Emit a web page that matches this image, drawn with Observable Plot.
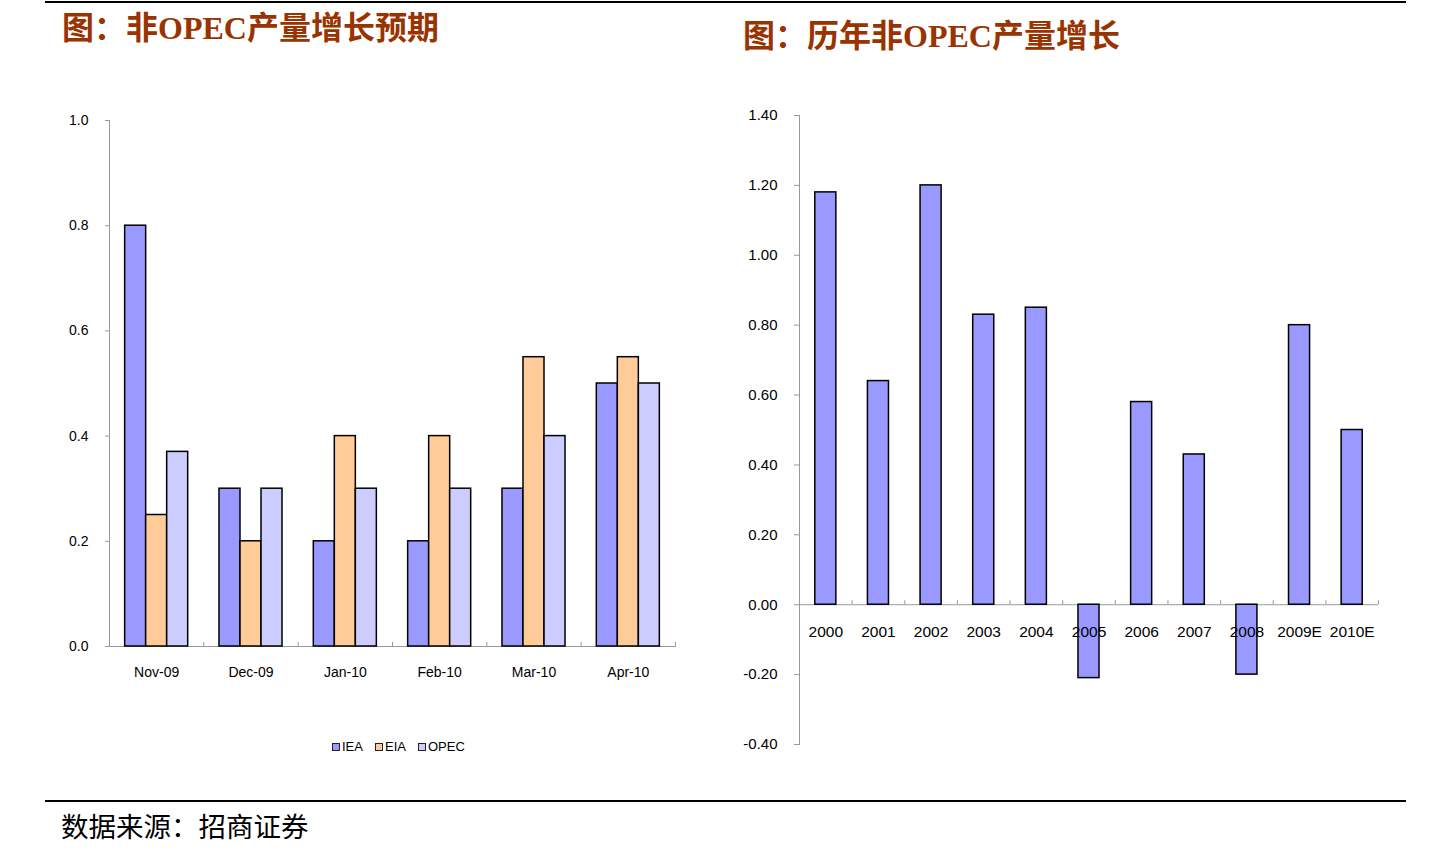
<!DOCTYPE html>
<html>
<head>
<meta charset="utf-8">
<script src="https://cdn.jsdelivr.net/npm/d3@7"></script>
<script src="https://cdn.jsdelivr.net/npm/@observablehq/plot@0.6"></script>
<style>
  html, body { margin: 0; padding: 0; background: #fff; }
  #page { position: relative; width: 1440px; height: 862px; overflow: hidden; font-family: "Liberation Sans", Arial, sans-serif; }
  .hr { position: absolute; left: 45px; width: 1361px; height: 2px; background: #000; }
  .title { position: absolute; font-family: "Liberation Serif", "Noto Sans CJK SC", serif; font-weight: bold; font-size: 32px; color: #993300; white-space: nowrap; line-height: 1; }
  .source { position: absolute; left: 61px; top: 814px; font-family: "Liberation Serif", "Noto Sans CJK SC", serif; font-size: 27.5px; color: #000; white-space: nowrap; line-height: 1; }
  .chart { position: absolute; }
  .legend { position: absolute; top: 739px; left: 332px; display: flex; gap: 12px; font-size: 13px; color: #000; white-space: nowrap; }
  .legend span.item { display: flex; align-items: center; gap: 2px; }
  .legend span.sw { display: inline-block; width: 6px; height: 6px; border: 1.5px solid #222; }
</style>
</head>
<body>
<div id="page">
  <div class="hr" style="top:1px"></div>
  <div class="title" style="left:62px; top:12px">图：非OPEC产量增长预期</div>
  <div class="title" style="left:743px; top:20px">图：历年非OPEC产量增长</div>
  <div id="left" class="chart" style="left:0px; top:90px"></div>
  <div id="legend" class="legend"></div>
  <div id="right" class="chart" style="left:700px; top:90px"></div>
  <div class="hr" style="top:800px"></div>
  <div class="source">数据来源：招商证券</div>
</div>
<script>
// Forecasts of non-OPEC supply growth by agency (mb/d)
const months = ["Nov-09", "Dec-09", "Jan-10", "Feb-10", "Mar-10", "Apr-10"];
const agencies = ["IEA", "EIA", "OPEC"];
const ieaGrowth = [0.80, 0.30, 0.20, 0.20, 0.30, 0.50];
const eiaGrowth = [0.25, 0.20, 0.40, 0.40, 0.55, 0.55];
const opecGrowth = [0.37, 0.30, 0.30, 0.30, 0.40, 0.50];
const agencyColors = ["#9999FF", "#FFCC99", "#CCCCFF"];
const leftTicks = [0, 0.2, 0.4, 0.6, 0.8, 1.0];

// Historical non-OPEC supply growth (mb/d)
const years = ["2000", "2001", "2002", "2003", "2004", "2005", "2006", "2007", "2008", "2009E", "2010E"];
const annualGrowth = [1.18, 0.64, 1.20, 0.83, 0.85, -0.21, 0.58, 0.43, -0.20, 0.80, 0.50];
const rightTicks = [-0.4, -0.2, 0, 0.2, 0.4, 0.6, 0.8, 1.0, 1.2, 1.4];
const barColor = "#9999FF";

const axisGray = "#999";
const font = "'Liberation Sans', Arial, sans-serif";

// ---- grouped bars: forecasts by month ----
const series = [ieaGrowth, eiaGrowth, opecGrowth];
const forecastRows = months.flatMap((m, i) =>
  agencies.map((a, j) => ({month: m, agency: a, value: series[j][i]}))
);

const L = {width: 700, height: 610, top: 30, bottom: 54, left: 109, right: 25};
const leftInnerH = L.height - L.top - L.bottom;

const leftChart = Plot.plot({
  width: L.width, height: L.height,
  marginTop: L.top, marginBottom: L.bottom, marginLeft: L.left, marginRight: L.right,
  style: {fontFamily: font, fontSize: "14px", color: "#000", background: "transparent", overflow: "visible"},
  fx: {domain: months, padding: 0, round: false, label: null},
  x: {domain: agencies, paddingInner: 0, paddingOuter: 0.745, round: false, axis: null},
  y: {domain: [0, 1], label: null},
  color: {domain: agencies, range: agencyColors},
  marks: [
    Plot.frame({anchor: "left", facetAnchor: "left", stroke: axisGray}),
    Plot.frame({anchor: "left", insetTop: leftInnerH - 4, stroke: axisGray}),
    Plot.frame({anchor: "right", insetTop: leftInnerH - 4, facetAnchor: "right", stroke: axisGray}),
    Plot.ruleY([0], {stroke: axisGray}),
    Plot.barY(forecastRows, {fx: "month", x: "agency", y: "value", fill: "agency", stroke: "#000", strokeWidth: 1.5}),
    Plot.axisY({ticks: leftTicks, tickFormat: d => d.toFixed(1), tickSize: 4, tickPadding: 17, stroke: axisGray, fill: "#000", label: null}),
    Plot.axisFx({anchor: "bottom", tickSize: 0, tickPadding: 21, fontSize: 14, label: null})
  ]
});
document.getElementById("left").appendChild(leftChart);

// legend
const legend = document.getElementById("legend");
agencies.forEach((a, i) => {
  const item = document.createElement("span");
  item.className = "item";
  const sw = document.createElement("span");
  sw.className = "sw";
  sw.style.background = agencyColors[i];
  item.appendChild(sw);
  item.appendChild(document.createTextNode(a));
  legend.appendChild(item);
});

// ---- single bars: growth by year ----
const annualRows = years.map((y, i) => ({year: y, value: annualGrowth[i]}));
const R = {width: 740, height: 680, top: 25, bottom: 26, left: 99, right: 62};
const rightInnerH = R.height - R.top - R.bottom;
const rightStep = (R.width - R.left - R.right) / years.length;
const tickLen = 4 * (1.4 - -0.4) / rightInnerH;

const rightChart = Plot.plot({
  width: R.width, height: R.height,
  marginTop: R.top, marginBottom: R.bottom, marginLeft: R.left, marginRight: R.right,
  style: {fontFamily: font, fontSize: "15px", color: "#000", background: "transparent", overflow: "visible"},
  x: {domain: years, paddingInner: 0.6, paddingOuter: 0.3, round: false, axis: null},
  y: {domain: [-0.4, 1.4], label: null},
  marks: [
    Plot.frame({anchor: "left", stroke: axisGray}),
    Plot.ruleY([0], {stroke: axisGray}),
    Plot.ruleX(years, {x: d => d, y1: 0, y2: tickLen, dx: -rightStep / 2, stroke: axisGray}),
    Plot.ruleX(years.slice(-1), {x: d => d, y1: 0, y2: tickLen, dx: rightStep / 2, stroke: axisGray}),
    Plot.barY(annualRows, {x: "year", y: "value", fill: barColor, stroke: "#000", strokeWidth: 1.5}),
    Plot.text(years, {x: d => d, y: () => 0, dy: 27, text: d => d, fontSize: 15.5, fill: "#000"}),
    Plot.axisY({ticks: rightTicks, tickFormat: d => d.toFixed(2), tickSize: 5, tickPadding: 17, stroke: axisGray, fill: "#000", label: null})
  ]
});
document.getElementById("right").appendChild(rightChart);
</script>
</body>
</html>
